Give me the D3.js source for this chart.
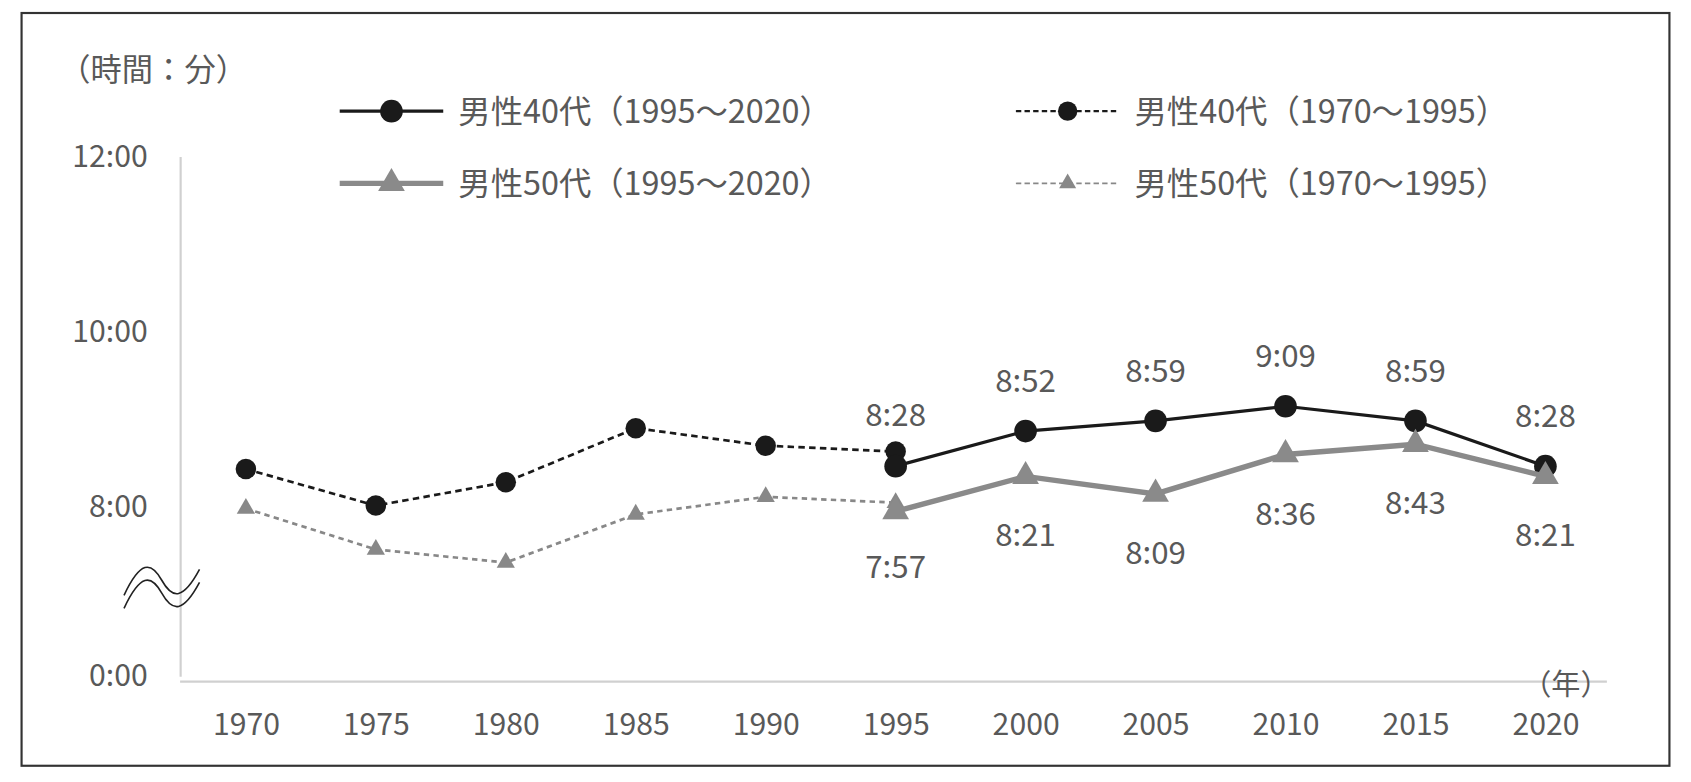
<!DOCTYPE html>
<html><head><meta charset="utf-8">
<script src="https://cdn.jsdelivr.net/npm/d3@7"></script>
<style>body{margin:0;background:#fff}text{font-family:"Noto Sans CJK JP","Noto Sans",sans-serif;fill:#595959}</style>
</head><body><svg id="c" width="1691" height="782" viewBox="0 0 1568 725"></svg>
<script>
const years = [1970,1975,1980,1985,1990,1995,2000,2005,2010,2015,2020];
const yearsNew = [1995,2000,2005,2010,2015,2020];
const yearsOld = [1970,1975,1980,1985,1990,1995];
const m40New = ["8:28","8:52","8:59","9:09","8:59","8:28"];
const m50New = ["7:57","8:21","8:09","8:36","8:43","8:21"];
const m40Old = ["8:26","8:01","8:17","8:54","8:42","8:38"];
const m50Old = ["7:59","7:31","7:22","7:55","8:07","8:03"];
const yTickVals = [6.07,8,10,12];
const yTickLabels = ["0:00","8:00","10:00","12:00"];
const legendLabels = ["男性40代（1995～2020）","男性40代（1970～1995）","男性50代（1995～2020）","男性50代（1970～1995）"];

const toH = s => { const [h,m]=s.split(":").map(Number); return h+m/60; };
const svg = d3.select("#c");
svg.append("rect").attr("x",20).attr("y",12).attr("width",1528).attr("height",698).attr("fill","none").attr("stroke","#333").attr("stroke-width",2);

const x = d3.scalePoint().domain(years).range([228,1433]);
const y = d3.scaleLinear().domain([6.07,12]).range([627,145]);

const yAx = svg.append("g").attr("transform","translate(167,0)").call(d3.axisLeft(y).tickValues(yTickVals).tickFormat((d,i)=>yTickLabels[i]).tickSize(0).tickPadding(30));
yAx.select(".domain").attr("stroke","#d0d0d0").attr("stroke-width",2);
yAx.selectAll("text").style("font-size","28px").attr("fill","#595959");
svg.append("line").attr("x1",167).attr("x2",1490).attr("y1",632).attr("y2",632).attr("stroke","#d0d0d0").attr("stroke-width",2);
const xAx = svg.append("g").attr("transform","translate(0,632)").call(d3.axisBottom(x).tickSize(0).tickPadding(30));
xAx.select(".domain").remove();
xAx.selectAll("text").style("font-size","28px").attr("fill","#595959");
svg.append("text").attr("x",1452).attr("y",644).attr("text-anchor","middle").style("font-size","27px").text("（年）");
svg.append("text").attr("x",55).attr("y",75).style("font-size","29px").text("（時間：分）");

const brk = svg.append("g");
[0,12].forEach(o=>brk.append("path").attr("d",`M115,${552+o} C130,${520+o} 140,${520+o} 150,${538+o} S170,${556+o} 185,${528+o}`).attr("fill","none").attr("stroke","#222").attr("stroke-width",1.5));

const line = d3.line().x(d=>x(d[0])).y(d=>y(d[1]));
function series(ys, vals, opt){
  const data = ys.map((yr,i)=>[yr,toH(vals[i])]);
  svg.append("path").datum(data).attr("d",line).attr("fill","none").attr("stroke",opt.c).attr("stroke-width",opt.w).attr("stroke-dasharray",opt.dash||null);
  const g=svg.append("g");
  data.forEach(d=>{
    if(opt.m==="c") g.append("circle").attr("cx",x(d[0])).attr("cy",y(d[1])).attr("r",opt.r).attr("fill",opt.c);
    else g.append("path").attr("d",d3.symbol(d3.symbolTriangle,opt.r*opt.r*2.2)()).attr("transform",`translate(${x(d[0])},${y(d[1])})`).attr("fill",opt.c);
  });
  return data;
}
series(yearsOld,m40Old,{c:"#1a1a1a",w:2.5,dash:"6,4",m:"c",r:9.5});
series(yearsOld,m50Old,{c:"#888",w:2.5,dash:"5,4",m:"t",r:7.5});
const d40=series(yearsNew,m40New,{c:"#1a1a1a",w:3,m:"c",r:10.5});
const d50=series(yearsNew,m50New,{c:"#8a8a8a",w:5,m:"t",r:11});
d40.forEach((d,i)=>svg.append("text").attr("x",x(d[0])).attr("y",i===0?395:y(d[1])-36).attr("text-anchor","middle").style("font-size","29px").text(m40New[i]));
d50.forEach((d,i)=>svg.append("text").attr("x",x(d[0])).attr("y",y(d[1])+(i===0?62:65)).attr("text-anchor","middle").style("font-size","29px").text(m50New[i]));

const leg=[{x:315,y:103,c:"#1a1a1a",w:3,m:"c",r:10.5},{x:942,y:103,c:"#1a1a1a",w:2,dash:"5,3",m:"c",r:9},{x:315,y:170,c:"#8a8a8a",w:5,m:"t",r:11},{x:942,y:170,c:"#888",w:1.5,dash:"5,3",m:"t",r:7}];
leg.forEach((l,i)=>{
  svg.append("line").attr("x1",l.x).attr("x2",l.x+96).attr("y1",l.y).attr("y2",l.y).attr("stroke",l.c).attr("stroke-width",l.w).attr("stroke-dasharray",l.dash||null);
  if(l.m==="c") svg.append("circle").attr("cx",l.x+48).attr("cy",l.y).attr("r",l.r).attr("fill",l.c);
  else svg.append("path").attr("d",d3.symbol(d3.symbolTriangle,l.r*l.r*2.2)()).attr("transform",`translate(${l.x+48},${l.y})`).attr("fill",l.c);
  svg.append("text").attr("x",l.x+110).attr("y",l.y+11).style("font-size","30px").text(legendLabels[i]);
});
</script></body></html>
